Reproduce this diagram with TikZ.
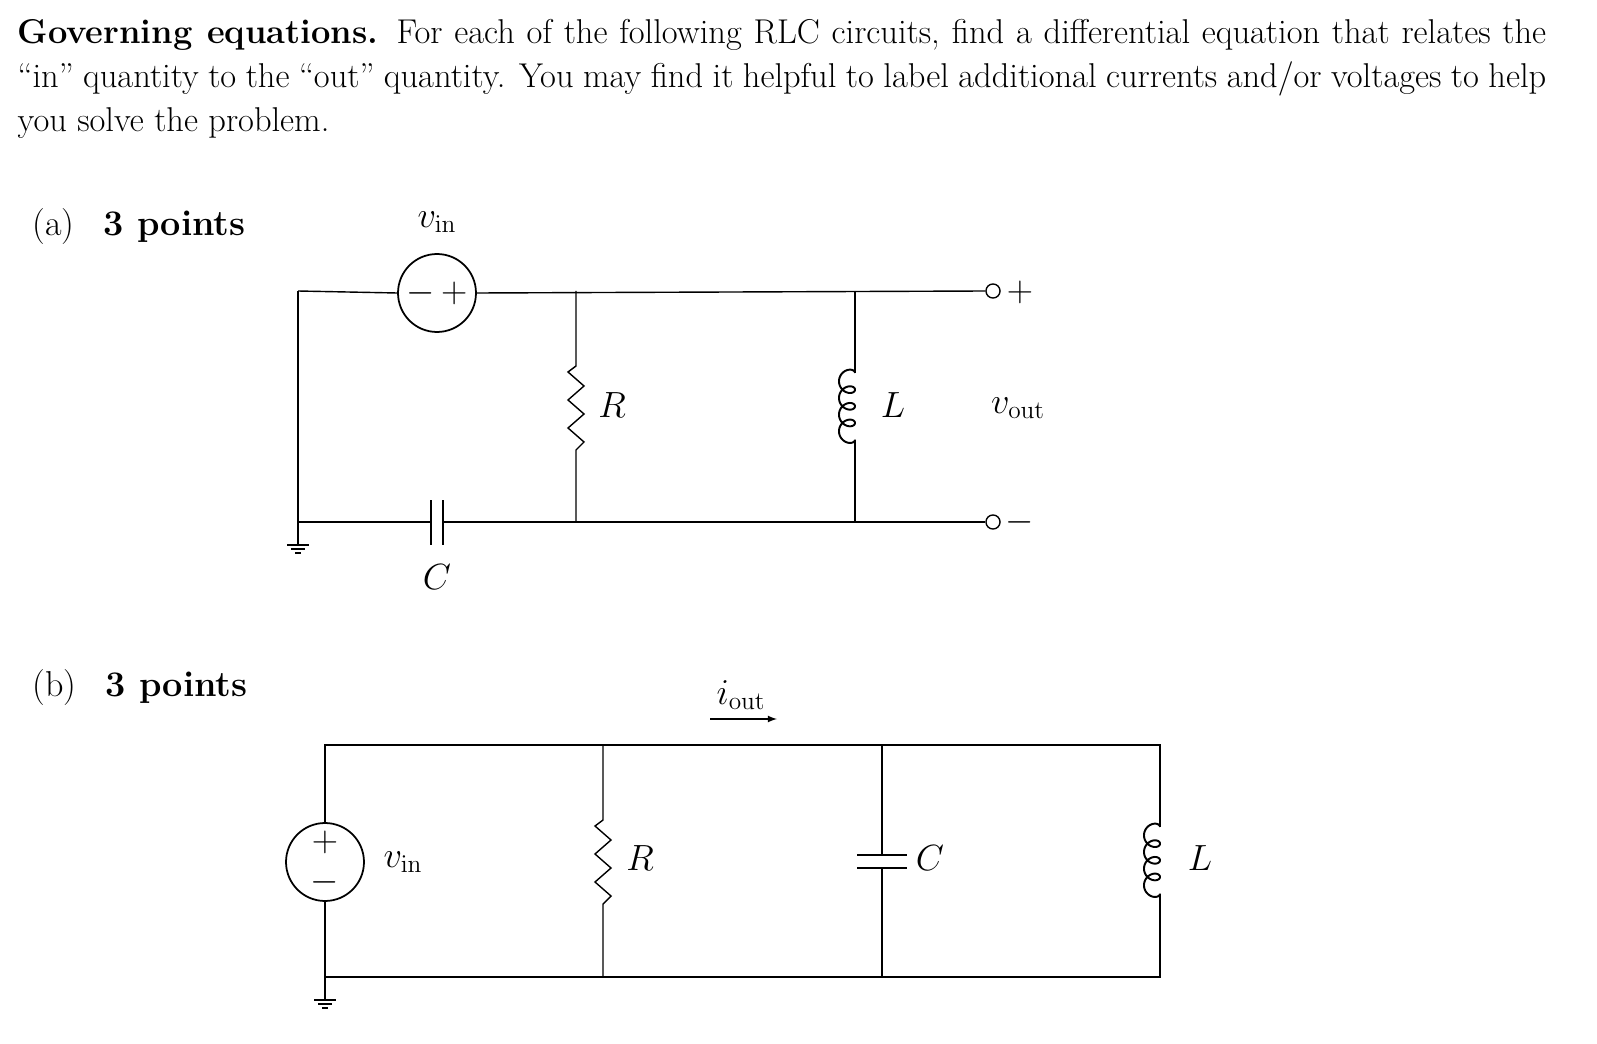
\documentclass[tikz,border=0pt]{standalone}
\begin{document}
\begin{tikzpicture}[x=0.02cm,y=-0.02cm,line width=0.8pt,
  lbl/.style={font=\fontsize{20.5}{24}\selectfont,inner sep=0pt},
  term/.style={circle,draw,fill=white,minimum size=8pt,inner sep=0pt},
  src/.style={circle,draw,minimum size=1.56cm,inner sep=0pt,line width=1pt}]
\node[anchor=north west,text width=870pt,align=justify,inner sep=0pt,font=\fontsize{19.6}{25}\selectfont] (hdr) at (17,19)
{\textbf{Governing equations.} For each of the following RLC circuits, find a differential equation that relates the ``in'' quantity to the ``out'' quantity. You may find it helpful to label additional currents and/or voltages to help you solve the problem.};
\node[lbl,anchor=west] (pa) at (32,227) {(a)\enspace\ \textbf{3 points}};
\node[lbl,anchor=west] (pb) at (32,688) {(b)\enspace\ \textbf{3 points}};
% ---------- circuit (a)
\coordinate (a1) at (298,291); \coordinate (a2) at (298,522);
\coordinate (ar1) at (576,291); \coordinate (ar2) at (576,522);
\coordinate (al1) at (855,291); \coordinate (al2) at (855,522);
\node[src] (vsa) at (437,293) {};
\node[lbl] at (437,293) {$-\,+$};
\node[term] (ta) at (993,291) {};
\node[term] (tb) at (993,522) {};
\draw (a1) -- (vsa.west) (vsa.east) -- (ta.west);
\draw (a1) -- (a2) -- (431,522) (443,522) -- (tb.west);
\draw (431,500) -- (431,545) (443,500) -- (443,545);
\draw (ar1) -- (576,366) -- (568,372) -- (584,386) -- (568,400) -- (584,414) -- (568,428) -- (584,442) -- (576,450) -- (ar2);
\draw (al1) -- (855,373);
\draw[line width=1.1pt] plot[domain=0:25.13,samples=240,variable=\t] ({855+8*(cos(\t r)-1)},{373+2.65*\t-7*sin(\t r)});
\draw (855,439.6) -- (al2);
\draw (a2) -- (298,545) (287,545) -- (309,545) (291,549) -- (305,549) (295,553) -- (301,553);
\node[lbl] (lvin) at (437,222) {$v_{\mathrm{in}}$};
\node[lbl] (lR) at (612,405) {$R$};
\node[lbl] (lL) at (893,405) {$L$};
\node[lbl] (lvo) at (1018,408) {$v_{\mathrm{out}}$};
\node[lbl] (lp) at (1020,292) {$+$};
\node[lbl] (lm) at (1020,522) {$-$};
\node[lbl] (lC) at (437,577) {$C$};
% ---------- circuit (b)
\node[src] (vsb) at (325,862) {};
\node[lbl] at (325,842) {$+$};
\node[lbl] at (325,882) {$-$};
\coordinate (b1) at (325,745); \coordinate (b2) at (1160,745);
\coordinate (b3) at (1160,977); \coordinate (b4) at (325,977);
\draw (vsb.north) -- (b1) -- (b2) -- (1160,827);
\draw[line width=1.1pt] plot[domain=0:25.13,samples=240,variable=\t] ({1160+8*(cos(\t r)-1)},{827+2.65*\t-7*sin(\t r)});
\draw (1160,893.6) -- (b3) -- (b4) -- (vsb.south);
\draw (603,745) -- (603,820) -- (595,826) -- (611,840) -- (595,854) -- (611,868) -- (595,882) -- (611,896) -- (603,904) -- (603,977);
\draw (882,745) -- (882,855) (857,855) -- (907,855) (857,868) -- (907,868) (882,868) -- (882,977);
\draw (b4) -- (325,1000) (314,1000) -- (336,1000) (318,1004) -- (332,1004) (322,1008) -- (328,1008);
\node[lbl] (lvinb) at (403,862) {$v_{\mathrm{in}}$};
\node[lbl] (lRb) at (640,858) {$R$};
\node[lbl] (lCb) at (930,858) {$C$};
\node[lbl] (lLb) at (1200,858) {$L$};
\node[lbl] (lio) at (741,695) {$i_{\mathrm{out}}$};
\coordinate (ia) at (710,719); \coordinate (ib) at (777,719);
\draw[-latex] (ia) -- (ib);
\pgfresetboundingbox
\useasboundingbox (0,0) rectangle (1597,1044);
\end{tikzpicture}
\end{document}
